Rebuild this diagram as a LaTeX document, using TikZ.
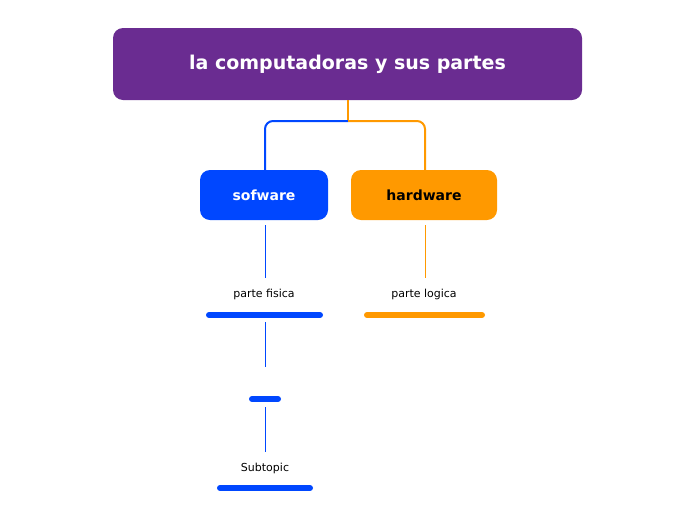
\documentclass[tikz,border=0pt]{standalone}
\usepackage{fontspec}
\setmainfont{DejaVu Sans}
\definecolor{purp}{HTML}{6A2C91}
\definecolor{blu}{HTML}{0047FF}
\definecolor{org}{HTML}{FF9900}
\begin{document}
\begin{tikzpicture}[x=1pt,y=-1pt,
  box/.style={rounded corners=10pt,font=\bfseries,inner sep=0pt},
  lbl/.style={font=\fontsize{11}{13}\selectfont,inner sep=1pt},
  bar/.style={line width=6pt,line cap=round}]
\useasboundingbox (0,0) rectangle (696,520);
\node[box,fill=purp,text=white,minimum width=469pt,minimum height=72pt,font=\bfseries\fontsize{19}{22}\selectfont] (t) at (347.5,64) {la computadoras y sus partes};
\node[box,fill=blu,text=white,minimum width=128pt,minimum height=50pt,font=\bfseries\fontsize{14}{17}\selectfont] (s) at (264,195) {sofware};
\node[box,fill=org,text=black,minimum width=146pt,minimum height=50pt,font=\bfseries\fontsize{14}{17}\selectfont] (h) at (424,195) {hardware};
\coordinate (j) at (348,121);
\draw[org,line width=2pt] (t.south -| j) -- (j);
\draw[blu,line width=2pt,rounded corners=8pt] (j) -- (265,121) -- (s.north -| 265,0);
\draw[org,line width=2pt,rounded corners=8pt] (j) -- (425,121) -- (h.north -| 425,0);
\node[lbl] (pf) at (264,294) {parte fisica};
\node[lbl] (pl) at (424,294) {parte logica};
\node[lbl] (st) at (265,468) {Subtopic};
\coordinate (b0) at (265,399);
\draw[blu,bar] (209,315) -- (320,315);
\draw[org,bar] (367,315) -- (482,315);
\draw[blu,bar] (252,399) -- (278,399);
\draw[blu,bar] (220,488) -- (310,488);
\draw[blu] (265,225) -- (265,278);
\draw[org] (425,225) -- (425,278);
\draw[blu] (265,322) -- (265,367);
\draw[blu] (265,407) -- (265,452);
\end{tikzpicture}
\end{document}
